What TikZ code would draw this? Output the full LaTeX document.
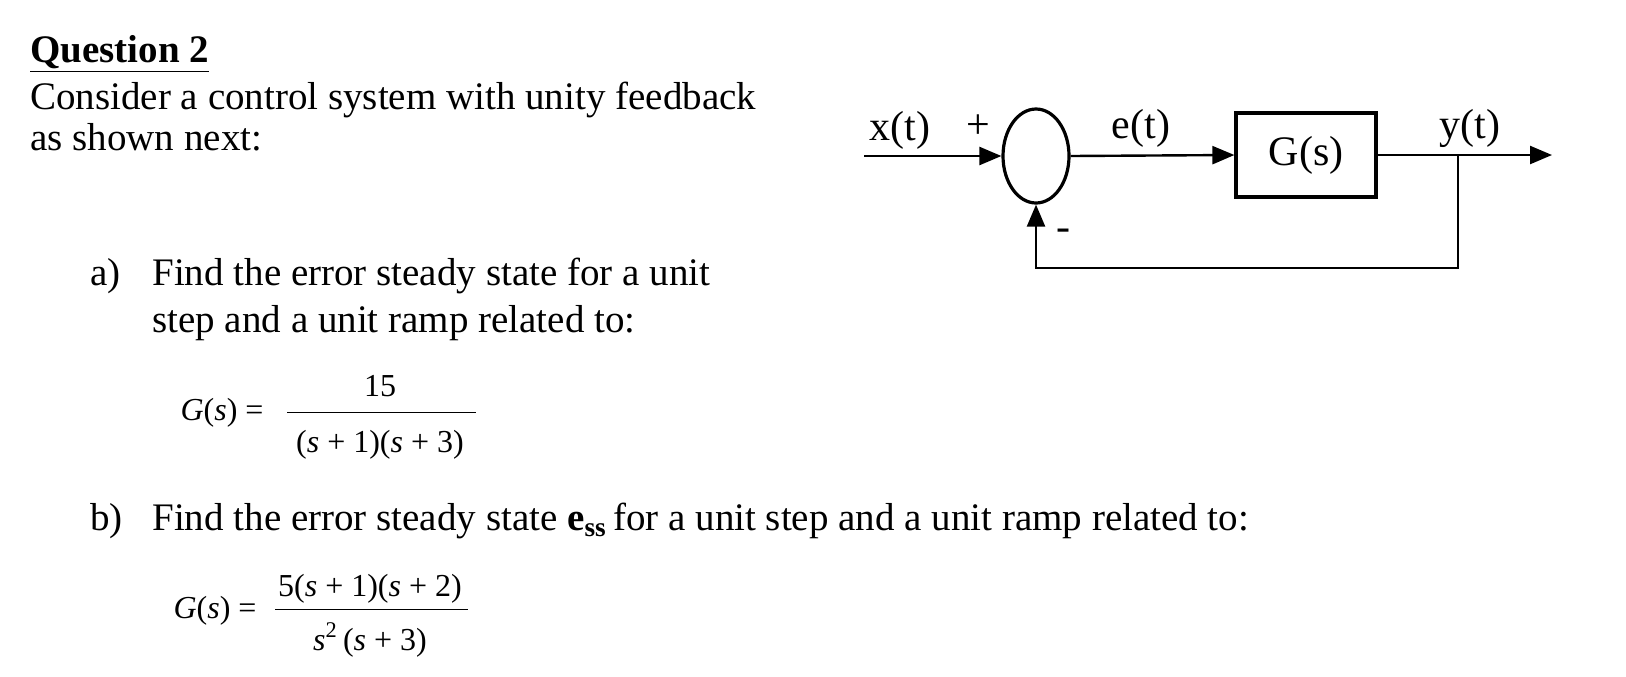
\documentclass[tikz,border=0pt]{standalone}
\usepackage{fontspec}
\setmainfont{Liberation Serif}
\usetikzlibrary{arrows.meta,shapes.geometric}
\newcommand{\vi}[1]{\textit{#1}}
\begin{document}
\begin{tikzpicture}[x=0.5pt,y=-0.5pt,
  txt/.style={anchor=base west,inner sep=0pt,font=\fontsize{19.5pt}{22pt}\selectfont},
  eq/.style={anchor=base,inner sep=0pt,font=\fontsize{16pt}{19pt}\selectfont},
  dg/.style={inner sep=0pt,font=\fontsize{21pt}{24pt}\selectfont},
  sig/.style={line width=1.2pt},
  arr/.style={sig,-{Triangle[length=11pt,width=9pt]}}]
\useasboundingbox (0,0) rectangle (1626,676);
\node[txt,font=\bfseries\fontsize{19.5pt}{22pt}\selectfont] (q) at (30,62) {\underline{Question 2}};
\node[txt] (l1) at (30,109) {Consider a control system with unity feedback};
\node[txt] (l2) at (30,150) {as shown next:};
\node[txt] (a) at (90,285) {a)};
\node[txt] (a1) at (152,285) {Find the error steady state for a unit};
\node[txt] (a2) at (152,332) {step and a unit ramp related to:};
\node[eq] (ga) at (222,420) {\vi{G}(\vi{s}) =};
\node[eq] (na) at (380,396) {15};
\node[eq] (da) at (380,452) {(\vi{s} + 1)(\vi{s} + 3)};
\draw[line width=0.5pt] (287,412) -- (476,412);
\node[txt] (b) at (90,530) {b)};
\node[txt] (b1) at (152,530) {Find the error steady state \textbf{e}\textsubscript{\textbf{ss}}\,for a unit step and a unit ramp related to:};
\node[eq] (gb) at (215,618) {\vi{G}(\vi{s}) =};
\node[eq] (nb) at (370,596) {5(\vi{s} + 1)(\vi{s} + 2)};
\node[eq] (db) at (370,650) {\vi{s}\textsuperscript{2}\,(\vi{s} + 3)};
\draw[line width=0.5pt] (275,609) -- (468,609);
% block diagram
\coordinate (in) at (864,156);
\node[draw,ellipse,line width=1.6pt,minimum width=33pt,minimum height=47pt,inner sep=0pt] (sum) at (1036,156) {};
\node[draw,line width=1.6pt,minimum width=70pt,minimum height=42pt,dg] (G) at (1306,155) {G(s)};
\coordinate (out) at (1552,155);
\coordinate (br) at (1458,155);
\coordinate (fb) at (1458,268);
\coordinate (fb2) at (sum.south|-fb);
\draw[arr] (in) -- (sum.west);
\draw[arr] (sum.east) -- (G.west);
\draw[arr] (G.east) -- (out);
\draw[arr] (br) -- (fb) -- (fb2) -- (sum.south);
\node[dg,anchor=base] (xt) at (900,140) {x(t)};
\node[dg,anchor=base] (pl) at (978,138) {+};
\node[dg,anchor=base] (et) at (1141,138) {e(t)};
\node[dg,anchor=base] (yt) at (1470,138) {y(t)};
\node[dg,anchor=base] (mi) at (1063,240) {-};
\end{tikzpicture}
\end{document}
